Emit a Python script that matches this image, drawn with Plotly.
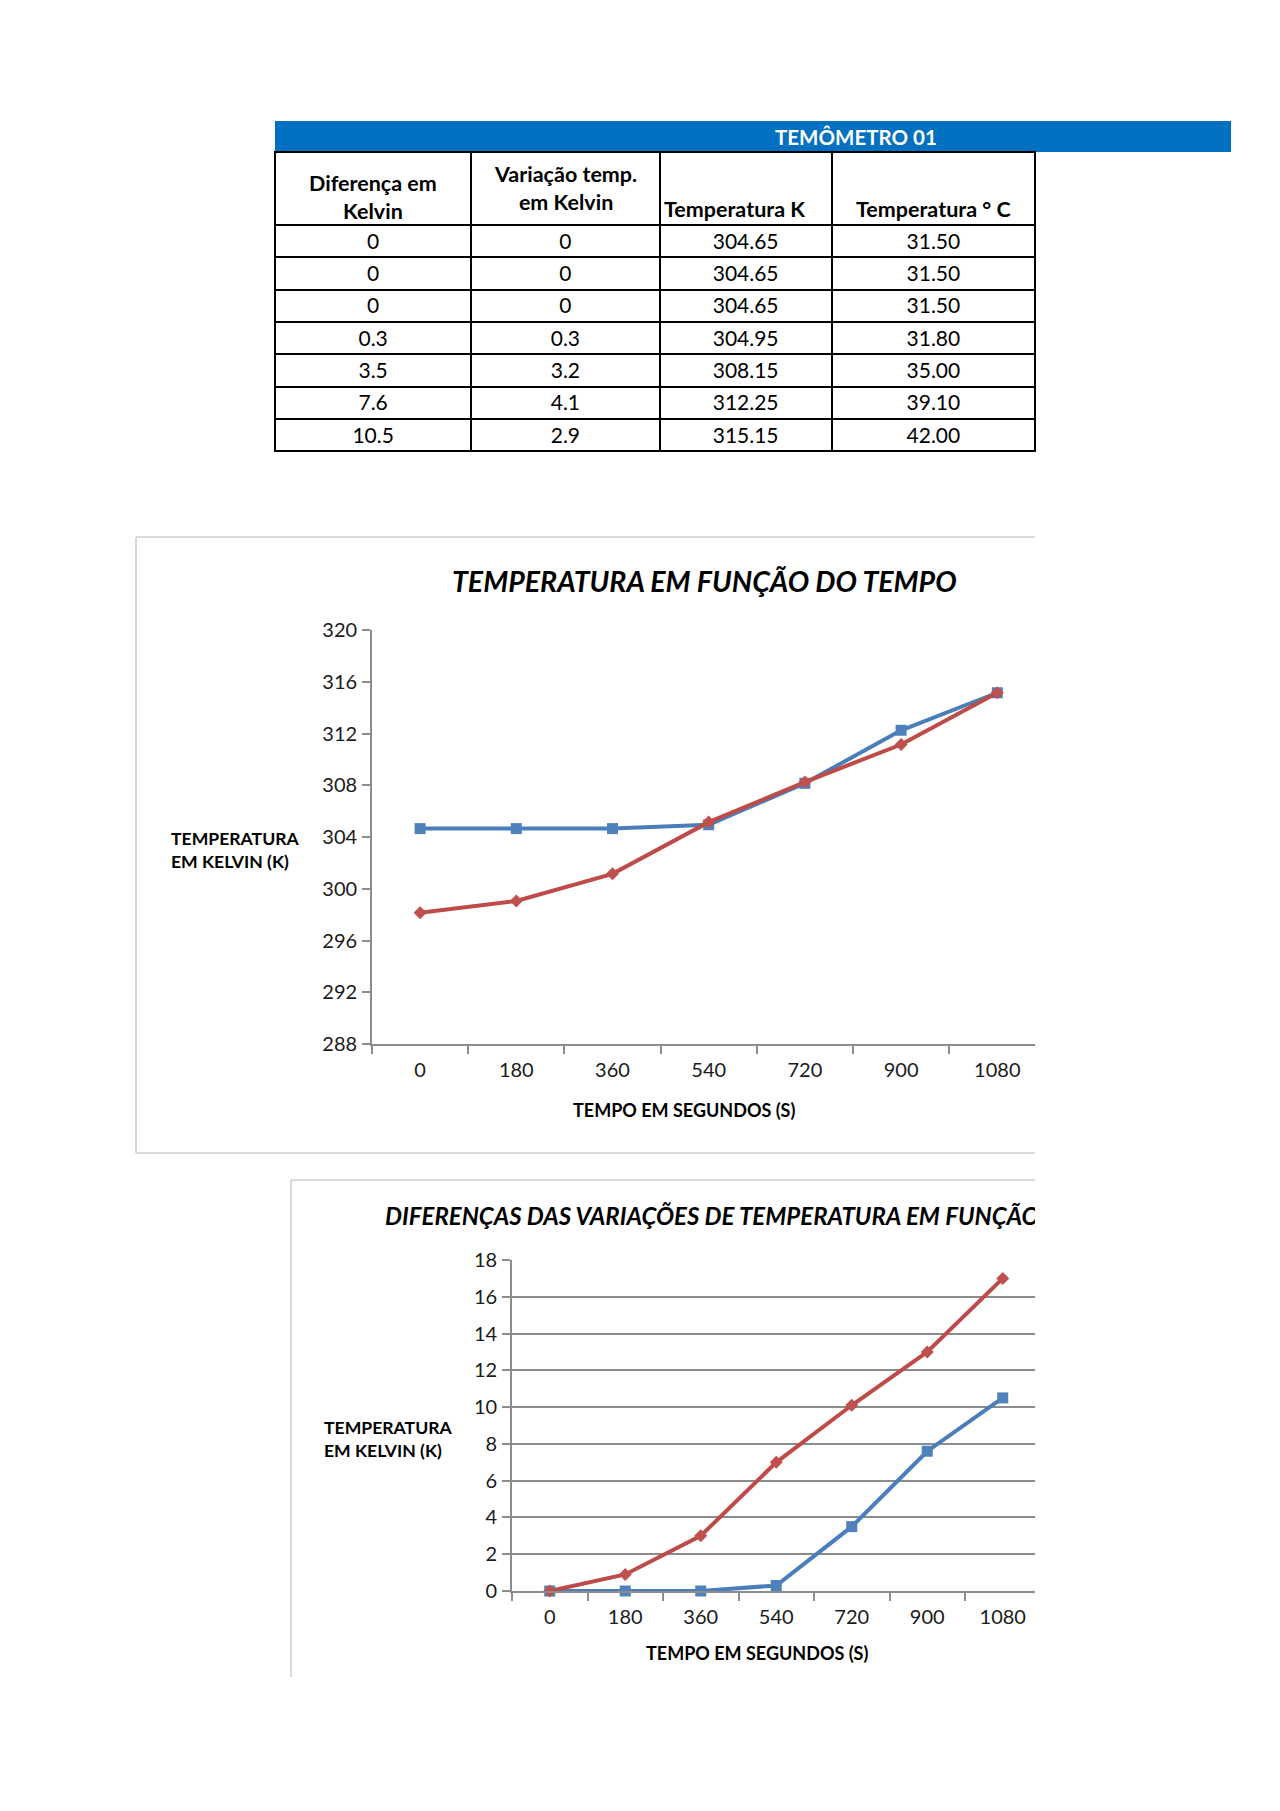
import plotly.graph_objects as go

# page is 1280x1811; the html body has an 8px margin, so the figure is 16px smaller
PAGE_W, PAGE_H, OFF = 1280, 1811, 8
W, H = PAGE_W - 2 * OFF, PAGE_H - 2 * OFF

# ---------------- data ----------------
tempos = ["0", "180", "360", "540", "720", "900", "1080"]
dif_kelvin = [0, 0, 0, 0.3, 3.5, 7.6, 10.5]
var_kelvin = [0, 0, 0, 0.3, 3.2, 4.1, 2.9]
temp_k = [304.65, 304.65, 304.65, 304.95, 308.15, 312.25, 315.15]
temp_c = [31.50, 31.50, 31.50, 31.80, 35.00, 39.10, 42.00]
ref_k = [298.15, 299.05, 301.15, 305.15, 308.25, 311.15, 315.15]
ref_dif = [0, 0.9, 3.0, 7.0, 10.1, 13.0, 17.0]

table_title = "TEMÔMETRO 01"
col_headers = ["Diferença em<br>Kelvin", "Variação temp.<br>em Kelvin",
               "Temperatura K", "Temperatura ° C"]
chart1_title = "TEMPERATURA EM FUNÇÃO DO TEMPO"
chart2_title = "DIFERENÇAS DAS VARIAÇÕES DE TEMPERATURA EM FUNÇÃO DO TEMPO"
x_title = "TEMPO EM SEGUNDOS (S)"
y_title = "TEMPERATURA<br>EM KELVIN (K)"

# ---------------- style ----------------
FONT = "Lato"
BLUE_L, BLUE_M = "#4A7EBB", "#4F81BD"
RED_L, RED_M = "#BE4B48", "#C0504D"
AXIS = "#8C8C8C"
BORDER = "#D9D9D9"
TXT = "#1A1A1A"


def px(x):
    return (x - OFF) / W


def py(y):
    return 1 - (y - OFF) / H


def bold_lines(s):
    return "<br>".join(f"<b>{p}</b>" for p in s.split("<br>"))


fig = go.Figure()

# ---------------- table ----------------
fig.add_trace(go.Table(
    domain=dict(x=[px(275), px(1035)], y=[py(460), py(152)]),
    columnwidth=[196, 188, 172, 203],
    header=dict(values=["", "", "", ""], height=73, fill_color="white",
                line=dict(color="black", width=2),
                font=dict(family=FONT, size=21, color="black")),
    cells=dict(values=[[f"{v:g}" for v in dif_kelvin],
                       [f"{v:g}" for v in var_kelvin],
                       [f"{v:.2f}" for v in temp_k],
                       [f"{v:.2f}" for v in temp_c]],
               align="center", height=32.3, fill_color="white",
               line=dict(color="black", width=2),
               font=dict(family=FONT, size=21, color="black")),
))

# ---------------- chart 1 ----------------
fig.add_trace(go.Scatter(x=tempos, y=temp_k, mode="lines+markers",
                         line=dict(color=BLUE_L, width=4),
                         marker=dict(symbol="square", size=11, color=BLUE_M),
                         cliponaxis=False, xaxis="x", yaxis="y"))
fig.add_trace(go.Scatter(x=tempos, y=ref_k, mode="lines+markers",
                         line=dict(color=RED_L, width=4),
                         marker=dict(symbol="diamond", size=10, color=RED_M),
                         cliponaxis=False, xaxis="x", yaxis="y"))

# ---------------- chart 2 ----------------
fig.add_trace(go.Scatter(x=tempos, y=dif_kelvin, mode="lines+markers",
                         line=dict(color=BLUE_L, width=4),
                         marker=dict(symbol="square", size=11, color=BLUE_M),
                         cliponaxis=False, xaxis="x2", yaxis="y2"))
fig.add_trace(go.Scatter(x=tempos, y=ref_dif, mode="lines+markers",
                         line=dict(color=RED_L, width=4),
                         marker=dict(symbol="diamond", size=10, color=RED_M),
                         cliponaxis=False, xaxis="x2", yaxis="y2"))

# title of chart 2: real text, clipped by the frame's right edge like the original
fig.add_trace(go.Scatter(x=[385], y=[0.5], mode="text",
                         text=[f"<b><i>{chart2_title}</i></b>"],
                         textposition="middle right",
                         textfont=dict(family=FONT, size=24, color="black"),
                         cliponaxis=True, xaxis="x3", yaxis="y3"))

tickfont = dict(family=FONT, size=20, color=TXT)
common_x = dict(type="category", categoryorder="array", categoryarray=tempos,
                tickson="boundaries", ticks="outside", ticklen=8, tickwidth=1.8,
                tickcolor=AXIS, showline=True, linecolor=AXIS, linewidth=1.8,
                showgrid=False, zeroline=False, tickfont=tickfont, fixedrange=True,
                ticklabelstandoff=7, automargin=False)
common_y = dict(ticks="outside", ticklen=8, tickwidth=1.8, tickcolor=AXIS,
                showline=True, linecolor=AXIS, linewidth=1.8, zeroline=False,
                tickfont=tickfont, fixedrange=True, ticklabelstandoff=1,
                automargin=False)

fig.update_layout(
    width=W, height=H, autosize=False,
    margin=dict(l=0, r=0, t=0, b=0, pad=0),
    paper_bgcolor="white", plot_bgcolor="rgba(0,0,0,0)",
    showlegend=False, hovermode=False,
    font=dict(family=FONT, color=TXT),
    xaxis=dict(common_x, domain=[px(372), px(1035)], anchor="y",
               range=[-0.5, -0.5 + (1035 - 372) / 96.2]),
    yaxis=dict(common_y, domain=[py(1044), py(630)], anchor="x",
               range=[288, 320], dtick=4, showgrid=False),
    xaxis2=dict(common_x, domain=[px(512), px(1035)], anchor="y2",
                range=[-0.5, -0.5 + (1035 - 512) / 75.5]),
    yaxis2=dict(common_y, domain=[py(1591), py(1260)], anchor="x2",
                range=[0, 18], dtick=2, showgrid=True, gridcolor=AXIS, gridwidth=1.6),
    xaxis3=dict(domain=[px(291), px(1035)], anchor="y3", range=[291, 1035],
                visible=False, fixedrange=True, automargin=False),
    yaxis3=dict(domain=[py(1245), py(1192)], anchor="x3", range=[0, 1],
                visible=False, fixedrange=True, automargin=False),
)

# blue header bar of the table
fig.add_shape(type="rect", xref="paper", yref="paper",
              x0=px(275), x1=px(1231), y0=py(152), y1=py(121),
              fillcolor="#0070C0", line=dict(width=0), layer="below")

# chart frames (right side cut off in the original)
for (x0, y0, x1, y1) in [(136, 537, 1035, 537), (136, 537, 136, 1153), (136, 1153, 1035, 1153),
                         (291, 1180, 1035, 1180), (291, 1180, 291, 1677)]:
    fig.add_shape(type="line", xref="paper", yref="paper",
                  x0=px(x0), y0=py(y0), x1=px(x1), y1=py(y1),
                  line=dict(color=BORDER, width=2), layer="below")

hdr_font = dict(family=FONT, size=21.5, color="black")
annots = [
    dict(x=px(856), y=py(137.5), text=f"<b>{table_title}</b>",
         font=dict(family=FONT, size=20.5, color="white")),
    dict(x=px(373), y=py(197), text=bold_lines(col_headers[0]), font=hdr_font,
         align="center"),
    dict(x=px(565.5), y=py(188.5), text=bold_lines(col_headers[1]), font=hdr_font,
         align="center"),
    dict(x=px(662), y=py(209), text=f"<b>{col_headers[2]}</b>", font=hdr_font,
         xanchor="left"),
    dict(x=px(933.5), y=py(209), text=f"<b>{col_headers[3]}</b>", font=hdr_font),
    dict(x=px(704), y=py(581), text=f"<b><i>{chart1_title}</i></b>",
         font=dict(family=FONT, size=28.5, color="black")),
    dict(x=px(169), y=py(850), text=bold_lines(y_title), xanchor="left", align="left",
         font=dict(family=FONT, size=17.6, color="black")),
    dict(x=px(684), y=py(1110), text=f"<b>{x_title}</b>",
         font=dict(family=FONT, size=18, color="black")),
    dict(x=px(322), y=py(1438.5), text=bold_lines(y_title), xanchor="left", align="left",
         font=dict(family=FONT, size=17.6, color="black")),
    dict(x=px(757), y=py(1653), text=f"<b>{x_title}</b>",
         font=dict(family=FONT, size=18, color="black")),
]
for a in annots:
    a.setdefault("xanchor", "center")
    a.update(xref="paper", yref="paper", yanchor="middle", showarrow=False)
    fig.add_annotation(**a)

fig.write_html("out.html")
